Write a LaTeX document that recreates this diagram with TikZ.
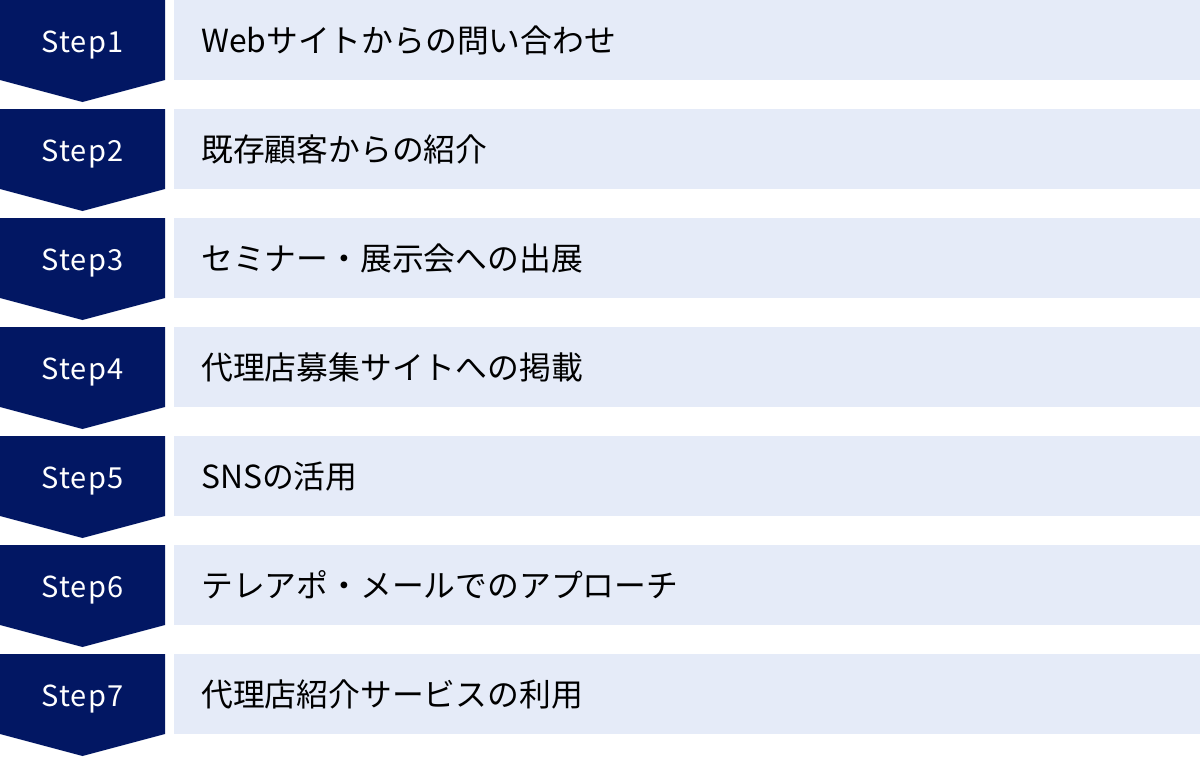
\documentclass[tikz,border=0pt]{standalone}
\usepackage{fontspec}
\setmainfont{Noto Sans CJK JP}
\newfontfamily\stepfont[LetterSpace=4]{Noto Sans CJK JP}
\definecolor{stepnavy}{HTML}{021763}
\definecolor{rowbg}{HTML}{E5EBF8}
\tikzset{
	steplabel/.style={anchor=base, inner sep=0pt, text=white, font=\stepfont\fontsize{29}{29}\selectfont},
	rowtext/.style={anchor=base west, inner sep=0pt, text=black, font=\fontsize{31.8}{32}\selectfont}
}

\begin{document}
\begin{tikzpicture}[x=1pt,y=-1pt]
	%% frame
	\useasboundingbox (0,0) rectangle (1200,756);
	%% rows
	\foreach \i/\txt in {1/Webサイトからの問い合わせ, 2/既存顧客からの紹介, 3/セミナー・展示会への出展, 4/代理店募集サイトへの掲載, 5/SNSの活用, 6/テレアポ・メールでのアプローチ, 7/代理店紹介サービスの利用}{
		\pgfmathsetmacro{\rowy}{(\i-1)*109}
		\fill[stepnavy] (0,\rowy) -- (165,\rowy) -- (165,\rowy+80) -- (82.5,\rowy+102) -- (0,\rowy+80) -- cycle;
		\fill[rowbg] (174,\rowy) rectangle (1200,\rowy+80);
		\node[steplabel] (step\i) at (82.5,\rowy+52) {Step\i};
		\node[rowtext] (item\i) at (201,\rowy+52) {\txt};
	}
\end{tikzpicture}
\end{document}
